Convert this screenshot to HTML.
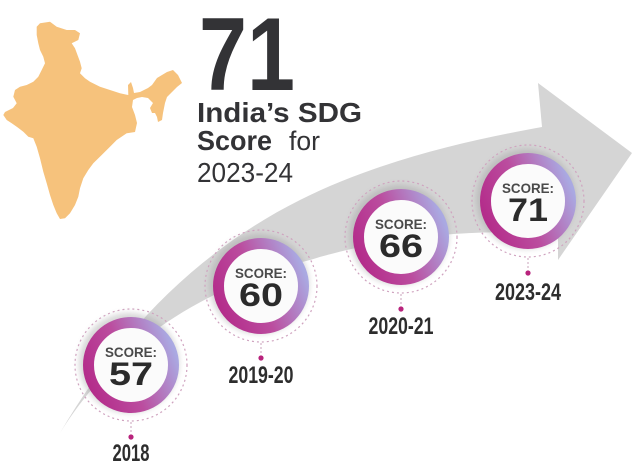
<!DOCTYPE html>
<html><head><meta charset="utf-8"><style>
html,body{margin:0;padding:0;background:#fff;}
svg{display:block;}
</style></head><body>
<svg width="640" height="474" viewBox="0 0 640 474" xmlns="http://www.w3.org/2000/svg">
<defs>
<linearGradient id="ring" x1="0" y1="0.7" x2="1" y2="0.3">
<stop offset="0" stop-color="#b42d8b"/>
<stop offset="0.45" stop-color="#bb4d9f"/>
<stop offset="1" stop-color="#aaa9e2"/>
</linearGradient>
<filter id="blur" x="-30%" y="-30%" width="160%" height="160%"><feGaussianBlur stdDeviation="3"/></filter>
</defs>
<rect width="640" height="474" fill="#fff"/>

<!-- India map -->
<polygon fill="#f6c27c" points="36.7,26.7 40,23.3 50,21.7 56.7,26.7 66.7,30 75,30 80,33.3 78.3,40 71.7,43.3 75,48.3 80,61.7 81.7,68.3 80,73.3 85,78.3 90,81.7 100,86.7 110,90 120,93.3 128.3,95 128,85 131,82 133,88 134,93 140,92 148,88 152,85 157,78 162,75 167,72 173,70 178,75 182,83 177,87 172,92 167,97 165,103 163,113 162,120 158,122 157,117 155,113 152,113 150,108 153,103 148,98 142,97 137,98 133,100 132,107 135,115 137,123 135,132 126.7,133.3 116.7,140 110,146.7 101.7,155 93.3,163.3 88.3,170 83.3,178.3 80,188.3 78.3,196.7 75,205 70,213.3 65,218.3 60,219 56.7,213.3 53.3,205 50,195 46.7,183.3 43.3,171.7 40,158.3 36.7,146.7 33.3,138.3 28.3,136.7 23.3,131.7 16.7,126.7 11.7,123.3 6.7,120 3.3,115 5,112 13,108 16.7,103.3 13.3,96.7 15,90 20,86.7 26.7,85 33.3,81.7 38.3,76.7 41.7,70 45,63.3 43.3,56.7 40,50 38.3,43.3 36.7,35"/>

<!-- Title -->
<g fill="#333336" font-family="Liberation Sans, sans-serif">
<text x="199" y="90" font-size="104" font-weight="bold" textLength="96" lengthAdjust="spacingAndGlyphs">71</text>
<text x="197" y="122" font-size="28" font-weight="bold" textLength="165" lengthAdjust="spacingAndGlyphs">India’s SDG</text>
<text x="197" y="150" font-size="28" font-weight="bold" textLength="75" lengthAdjust="spacingAndGlyphs">Score</text>
<text x="289" y="150" font-size="27" textLength="31" lengthAdjust="spacingAndGlyphs">for</text>
<text x="197" y="182" font-size="28" textLength="96" lengthAdjust="spacingAndGlyphs">2023-24</text>
</g>

<!-- Arrow -->
<path fill="#d5d5d5" d="M60,433 C120,330 200,250 300,200 C380,160 470,140 542,127 L538,83 L632,153 L558,260 L558,236 C480,226 380,238 310,260 C240,278 130,320 60,433 Z"/>

<!-- Circles -->
<g font-family="Liberation Sans, sans-serif" text-anchor="middle">
<!-- 57 -->
<g transform="translate(131,365)">
<circle cx="-2" cy="-2" r="50" fill="#9a9a9a" opacity="0.4" filter="url(#blur)"/>
<circle r="56" fill="none" stroke="#cfa3bf" stroke-width="1.2" stroke-dasharray="2 3"/>
<circle r="42.5" fill="#fbfbfb" stroke="url(#ring)" stroke-width="11"/>
<text y="-8" font-size="14" font-weight="bold" fill="#4a4a4a" textLength="52" lengthAdjust="spacingAndGlyphs">SCORE:</text>
<text y="20" font-size="32" font-weight="bold" fill="#2b2b2b" textLength="44" lengthAdjust="spacingAndGlyphs">57</text>
<line x1="0" y1="57" x2="0" y2="69" stroke="#c9a3bb" stroke-width="1" stroke-dasharray="2 2"/>
<circle cy="72" r="2.6" fill="#b8237c"/>
<text y="96" font-size="24" font-weight="bold" fill="#2d2d2d" textLength="37" lengthAdjust="spacingAndGlyphs">2018</text>
</g>
<!-- 60 -->
<g transform="translate(261,286)">
<circle cx="-2" cy="-2" r="50" fill="#9a9a9a" opacity="0.4" filter="url(#blur)"/>
<circle r="56" fill="none" stroke="#cfa3bf" stroke-width="1.2" stroke-dasharray="2 3"/>
<circle r="42.5" fill="#fbfbfb" stroke="url(#ring)" stroke-width="11"/>
<text y="-8" font-size="14" font-weight="bold" fill="#4a4a4a" textLength="52" lengthAdjust="spacingAndGlyphs">SCORE:</text>
<text y="20" font-size="32" font-weight="bold" fill="#2b2b2b" textLength="44" lengthAdjust="spacingAndGlyphs">60</text>
<line x1="0" y1="57" x2="0" y2="69" stroke="#c9a3bb" stroke-width="1" stroke-dasharray="2 2"/>
<circle cy="72" r="2.6" fill="#b8237c"/>
<text y="97" font-size="24" font-weight="bold" fill="#2d2d2d" textLength="65" lengthAdjust="spacingAndGlyphs">2019-20</text>
</g>
<!-- 66 -->
<g transform="translate(401,237)">
<circle cx="-2" cy="-2" r="50" fill="#9a9a9a" opacity="0.4" filter="url(#blur)"/>
<circle r="56" fill="none" stroke="#cfa3bf" stroke-width="1.2" stroke-dasharray="2 3"/>
<circle r="42.5" fill="#fbfbfb" stroke="url(#ring)" stroke-width="11"/>
<text y="-8" font-size="14" font-weight="bold" fill="#4a4a4a" textLength="52" lengthAdjust="spacingAndGlyphs">SCORE:</text>
<text y="20" font-size="32" font-weight="bold" fill="#2b2b2b" textLength="44" lengthAdjust="spacingAndGlyphs">66</text>
<line x1="0" y1="57" x2="0" y2="69" stroke="#c9a3bb" stroke-width="1" stroke-dasharray="2 2"/>
<circle cy="72" r="2.6" fill="#b8237c"/>
<text y="97" font-size="24" font-weight="bold" fill="#2d2d2d" textLength="65" lengthAdjust="spacingAndGlyphs">2020-21</text>
</g>
<!-- 71 -->
<g transform="translate(528,201)">
<circle cx="-2" cy="-2" r="50" fill="#9a9a9a" opacity="0.4" filter="url(#blur)"/>
<circle r="56" fill="none" stroke="#cfa3bf" stroke-width="1.2" stroke-dasharray="2 3"/>
<circle r="42.5" fill="#fbfbfb" stroke="url(#ring)" stroke-width="11"/>
<text y="-8" font-size="14" font-weight="bold" fill="#4a4a4a" textLength="52" lengthAdjust="spacingAndGlyphs">SCORE:</text>
<text y="20" font-size="32" font-weight="bold" fill="#2b2b2b" textLength="40" lengthAdjust="spacingAndGlyphs">71</text>
<line x1="0" y1="57" x2="0" y2="69" stroke="#c9a3bb" stroke-width="1" stroke-dasharray="2 2"/>
<circle cy="72" r="2.6" fill="#b8237c"/>
<text y="99" font-size="24" font-weight="bold" fill="#2d2d2d" textLength="66" lengthAdjust="spacingAndGlyphs">2023-24</text>
</g>
</g>
</svg>
</body></html>
